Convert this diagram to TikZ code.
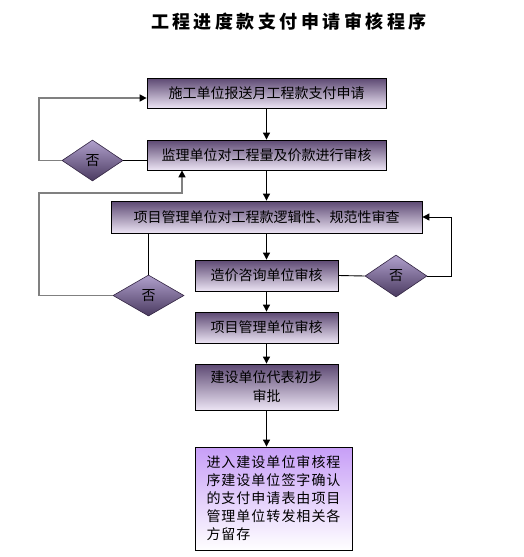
\documentclass[tikz,border=0pt]{standalone}
\usepackage{fontspec}
\setmainfont{Noto Sans CJK SC}
\usetikzlibrary{shapes.geometric,arrows.meta}
\definecolor{boxtop}{RGB}{92,72,114}
\definecolor{boxbot}{RGB}{236,228,244}
\definecolor{diatop}{RGB}{176,160,204}
\definecolor{diabot}{RGB}{74,58,96}
\definecolor{diaedge}{RGB}{50,36,66}
\definecolor{lasttop}{RGB}{199,158,247}
\definecolor{loopgray}{RGB}{128,128,128}
\def\spc#1#2{\def\spcamt{#1}\spcloop#2\relax}
\def\spcloop#1{\ifx#1\relax\unkern\else#1\kern\spcamt\relax\expandafter\spcloop\fi}
\begin{document}
\begin{tikzpicture}[x=1pt,y=-1pt,
  box/.style={draw=black, line width=0.8pt, top color=boxtop, bottom color=boxbot,
    font=\fontsize{14}{19}\selectfont, inner sep=0pt, align=center},
  dia/.style={diamond, draw=diaedge, line width=0.6pt, top color=diatop, bottom color=diabot,
    inner sep=0pt, font=\fontsize{14}{16}\selectfont},
  conn/.style={draw=black, line width=0.9pt},
  gconn/.style={draw=loopgray, line width=1.5pt},
  arr/.style={-{Triangle[length=7pt,width=7pt]}},
  garr/.style={-{Triangle[length=7pt,width=7pt,color=black]}}]
\useasboundingbox (0,0) rectangle (524,557);
\node (title) at (289,22) {\fontsize{18}{20}\selectfont\bfseries\spc{3.5pt}{工程进度款支付申请审核程序}};
\node[box, minimum width=239pt, minimum height=30pt] (b1) at (266.5,93) {施工单位报送月工程款支付申请};
\node[box, minimum width=239pt, minimum height=30pt] (b2) at (266.5,155) {监理单位对工程量及价款进行审核};
\node[box, minimum width=311pt, minimum height=32pt] (b3) at (266.5,217) {项目管理单位对工程款逻辑性、规范性审查};
\node[box, minimum width=143pt, minimum height=31pt] (b4) at (266.5,275.5) {造价咨询单位审核};
\node[box, minimum width=143pt, minimum height=31pt] (b5) at (266.5,327.5) {项目管理单位审核};
\node[box, minimum width=143pt, minimum height=46pt] (b6) at (266.5,387) {建设单位代表初步\\审批};
\node[box, top color=lasttop, bottom color=white, align=left, font=\fontsize{14}{18}\selectfont,
  minimum width=157pt, minimum height=103pt] (b7) at (273.5,498.5)
  {\spc{1pt}{进入建设单位审核程}\\\spc{1pt}{序建设单位签字确认}\\\spc{1pt}{的支付申请表由项目}\\\spc{1pt}{管理单位转发相关各}\\\spc{1pt}{方留存}};
\node[dia, minimum width=61pt, minimum height=41pt] (d1) at (92.5,160.5) {否};
\node[dia, minimum width=71pt, minimum height=41pt] (d2) at (148.5,295.5) {否};
\node[dia, minimum width=62pt, minimum height=42pt] (d3) at (396,276) {否};
\draw[conn,arr] (b1) -- (b2);
\draw[conn,arr] (b2) -- (b3);
\draw[conn,arr] (b3) -- (b4);
\draw[conn,arr] (b4) -- (b5);
\draw[conn,arr] (b5) -- (b6);
\draw[conn,arr] (b6.south) -- (b6.south |- b7.north);
\draw[conn] (d1.east) -- (d1.east -| b2.west);
\coordinate (l1) at (39,98);
\draw[gconn,garr] (d1.west) -| (l1) -- (l1 -| b1.west);
\draw[conn] (b3.south -| d2.north) -- (d2.north);
\coordinate (l2) at (39,193);
\coordinate (l2b) at (182,193);
\draw[gconn,garr] (d2.west) -| (l2) -- (l2b) -- (l2b |- b2.south);
\draw[conn] (b4.east) -- (d3.west);
\coordinate (r3) at (451,217);
\draw[conn,arr] (d3.east) -| (r3) -- (r3 -| b3.east);
\end{tikzpicture}
\end{document}
